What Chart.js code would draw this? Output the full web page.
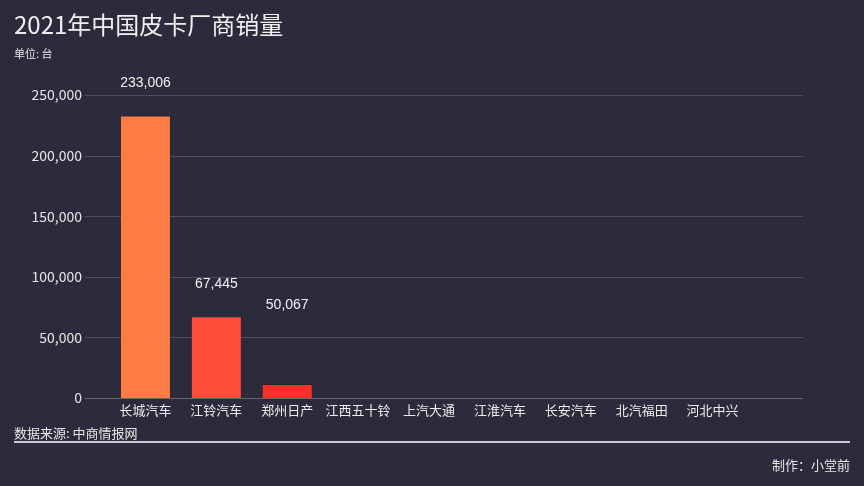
<!DOCTYPE html>
<html>
<head>
<meta charset="utf-8">
<script src="https://cdn.jsdelivr.net/npm/chart.js@4"></script>
<style>
  body { margin: 0; background: #2c2b3c; font-family: "Noto Sans CJK SC", "Noto Sans", sans-serif; }
  #wrap { position: relative; width: 864px; height: 486px; overflow: hidden; }
  #chart { position: absolute; left: 0; top: 0; }
  .txt { position: absolute; color: #f0f0f0; white-space: nowrap; }
  #title { left: 14px; top: 7px; font-size: 24px; line-height: 34px; }
  #unit { left: 14px; top: 45px; font-size: 11px; line-height: 16px; color: #e6e6e6; }
  #source { left: 14px; top: 424px; font-size: 13px; line-height: 18px; color: #e6e6e6; }
  #rule { position: absolute; left: 14px; top: 441px; width: 836px; height: 2px; background: #c9c9d6; }
  #credit { right: 14px; top: 456px; font-size: 13px; line-height: 18px; color: #e6e6e6; }
</style>
</head>
<body>
<div id="wrap">
  <canvas id="chart" width="864" height="486"></canvas>
  <div class="txt" id="title">2021年中国皮卡厂商销量</div>
  <div class="txt" id="unit">单位: 台</div>
  <div class="txt" id="source">数据来源: 中商情报网</div>
  <div id="rule"></div>
  <div class="txt" id="credit">制作：小堂前</div>
</div>
<script>
// 厂商
const makers = ['长城汽车', '江铃汽车', '郑州日产', '江西五十铃', '上汽大通', '江淮汽车', '长安汽车', '北汽福田', '河北中兴'];
// 标签上显示的销量
const sales = [233006, 67445, 50067, 0, 0, 0, 0, 0, 0];
// 画面里柱子的高度（动画中间帧）
const barHeights = [233006, 67445, 11500, 0, 0, 0, 0, 0, 0];
const barColors = ['#ff7d45', '#ff4f3b', '#f7302a', '#f7302a', '#f7302a', '#f7302a', '#f7302a', '#f7302a', '#f7302a'];
const yTicks = [0, 50000, 100000, 150000, 200000, 250000];

const fmt = (v) => v.toLocaleString('en-US');
const FONT = '"Noto Sans CJK SC", "Noto Sans", sans-serif';

// 网格线比绘图区宽，自己画
const gridPlugin = {
  id: 'wideGrid',
  beforeDatasetsDraw(chart) {
    const { ctx, chartArea, scales } = chart;
    ctx.save();
    yTicks.forEach((t) => {
      const y = Math.round(scales.y.getPixelForValue(t)) + 0.5;
      ctx.strokeStyle = t === 0 ? 'rgba(255,255,255,0.28)' : 'rgba(255,255,255,0.17)';
      ctx.lineWidth = 1;
      ctx.beginPath();
      ctx.moveTo(chartArea.left - 25, y);
      ctx.lineTo(chartArea.right + 55, y);
      ctx.stroke();
    });
    ctx.restore();
  },
};

// 数值标签
const labelPlugin = {
  id: 'valueLabels',
  afterDatasetsDraw(chart) {
    const { ctx, scales } = chart;
    ctx.save();
    ctx.font = '14px "Liberation Sans", Arial, sans-serif';
    ctx.fillStyle = '#f2f2f2';
    ctx.textAlign = 'center';
    ctx.textBaseline = 'middle';
    sales.forEach((v, i) => {
      if (!v) return;
      const x = scales.x.getPixelForValue(i);
      const y = scales.y.getPixelForValue(v) - 32;
      ctx.fillText(fmt(v), x, y);
    });
    ctx.restore();
  },
};

new Chart(document.getElementById('chart'), {
  type: 'bar',
  data: {
    labels: makers,
    datasets: [{
      data: barHeights,
      backgroundColor: barColors,
      borderColor: 'rgba(0,0,0,0.15)',
      borderWidth: 1,
      barPercentage: 0.72,
      categoryPercentage: 1,
    }],
  },
  options: {
    responsive: false,
    animation: false,
    layout: { padding: { left: 0, right: 116, top: 95, bottom: 63 } },
    plugins: {
      legend: { display: false },
      tooltip: { enabled: false },
    },
    scales: {
      x: {
        grid: { display: false, drawTicks: false },
        border: { display: false },
        ticks: { color: '#ececec', font: { size: 13, family: FONT }, padding: 4, maxRotation: 0, autoSkip: false },
        afterFit: (s) => { s.height = 25; },
      },
      y: {
        min: 0,
        max: 250000,
        grid: { display: false, drawTicks: false },
        border: { display: false },
        afterBuildTicks: (s) => { s.ticks = yTicks.map((v) => ({ value: v })); },
        ticks: { color: '#e6e6e6', font: { size: 14, family: FONT }, padding: 28, callback: (v) => fmt(v) },
        afterFit: (s) => { s.width = 110; },
      },
    },
  },
  plugins: [gridPlugin, labelPlugin],
});
</script>
</body>
</html>
